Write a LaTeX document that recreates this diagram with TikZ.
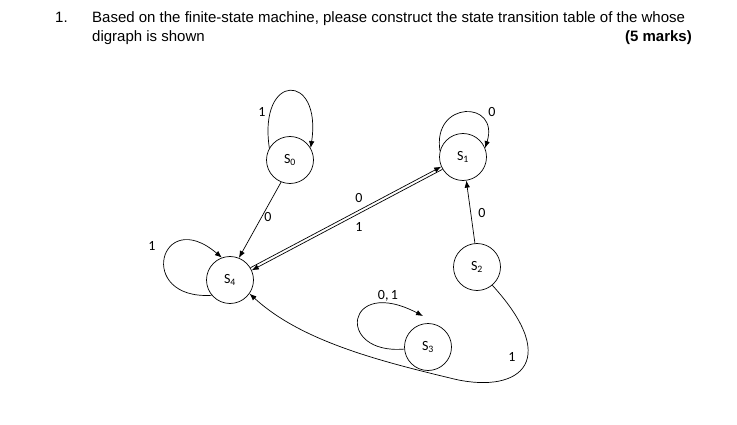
\documentclass[tikz,border=0pt]{standalone}
\usepackage{fontspec}
\setmainfont{Liberation Sans}
\newfontfamily\calib{Carlito}
\usetikzlibrary{arrows.meta}
\begin{document}
\begin{tikzpicture}[x=1pt,y=-1pt,
  st/.style={circle,draw,line width=0.7pt,minimum size=47pt,inner sep=0pt,font=\calib\fontsize{14}{16}\selectfont},
  ed/.style={line width=0.7pt,-{Latex[length=7pt,width=5.5pt]}},
  lb/.style={font=\calib\fontsize{14}{16}\selectfont,inner sep=0pt}]
\useasboundingbox (0,0) rectangle (737,425);
\node[anchor=base west,inner sep=0pt,font=\fontsize{15}{17}\selectfont] (num) at (55,23) {1.};
\node[anchor=base west,inner sep=0pt,font=\fontsize{15}{17}\selectfont] (t1) at (92,23) {Based on the finite-state machine, please construct the state transition table of the whose};
\node[anchor=base west,inner sep=0pt,font=\fontsize{15}{17}\selectfont] (t2) at (92,42) {digraph is shown};
\node[anchor=base east,inner sep=0pt,font=\bfseries\fontsize{15}{17}\selectfont] (mk) at (692,42) {(5 marks)};
\node[st] (s0) at (290,160) {S\textsubscript{0}};
\node[st] (s1) at (463,157) {S\textsubscript{1}};
\node[st] (s2) at (477,267) {S\textsubscript{2}};
\node[st] (s3) at (428,347) {S\textsubscript{3}};
\node[st] (s4) at (230,280) {S\textsubscript{4}};
\coordinate (s3end) at (423,316);
% loops
\draw[ed] (s0.150) .. controls (258,72) and (322,72) .. (s0.30);
\node[lb] (l0) at (262,112) {1};
\draw[ed] (s1.165) .. controls (432,100) and (500,100) .. (s1.22);
\node[lb] (l1) at (492,112) {0};
\draw[ed] (s4.220) .. controls (135,300) and (160,205) .. (s4.110);
\node[lb] (l4) at (152,246) {1};
\draw[ed] (s3.185) .. controls (335,355) and (345,275) .. (s3end);
\node[lb] (l3) at (388,296) {0,\,1};
% edges
\draw[ed] (s0.-112) -- (s4.68);
\node[lb] (l04) at (268,217) {0};
\draw[ed] (s4.31) -- (s1.204);
\draw[ed] (s1.211) -- (s4.24);
\node[lb] (l41) at (359,198) {0};
\node[lb] (l14) at (359,227) {1};
\draw[ed] (s2.95) -- (s1.-82);
\node[lb] (l21) at (482,213) {0};
\draw[ed] (s2.-50) .. controls (565,365) and (515,395) .. (450,378) .. controls (375,360) and (300,340) .. (s4.-35);
\node[lb] (l24) at (512,357) {1};
\end{tikzpicture}
\end{document}
